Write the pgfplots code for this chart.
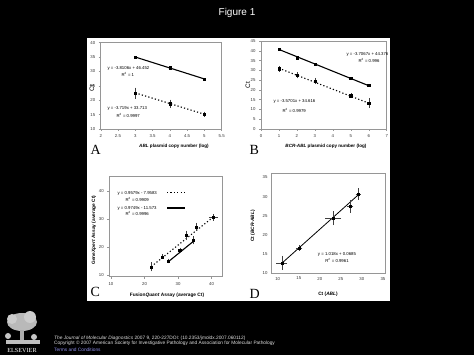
\documentclass[border=0pt]{standalone}
\usepackage{pgfplots}
\pgfplotsset{compat=1.18}
\usepackage{fontspec}
\setmainfont{Liberation Sans}
\newfontfamily\seriffont{Liberation Serif}
\definecolor{framegray}{RGB}{150,150,150}
\definecolor{termsblue}{RGB}{140,140,230}
\tikzset{
  solidfit/.style={black, line width=1.1pt},
  dotfit/.style={black, line width=1.1pt, dash pattern=on 1.2pt off 2.2pt},
}
\pgfplotsset{
  panel/.style={
    scale only axis, anchor=south west,
    axis line style={framegray, line width=0.5pt},
    tick style={framegray, line width=0.4pt},
    tick align=outside, major tick length=2pt, tick pos=left,
    tick label style={font=\fontsize{4.3}{5}\selectfont, text=black!80},
    /pgf/number format/assume math mode=true,
    clip=false,
  },
  pts/.style={only marks, mark=square*, mark size=1.1pt, black},
  ebars/.style={error bars/.cd, y dir=both, y explicit, x dir=both, x explicit,
     error bar style={line width=0.4pt, black!75},
     error mark options={mark size=1.2pt, line width=0.4pt, black!75}},
}
\begin{document}
\begin{tikzpicture}
\path[use as bounding box, fill=black] (0pt,0pt) rectangle (474pt,-355pt);
\fill[white] (87pt,-38pt) rectangle (390pt,-301pt);
\node[white, font=\fontsize{10}{12}\selectfont] at (237pt,-13pt) {Figure 1};

% ---------- Panel A ----------
\begin{axis}[panel, at={(100.7pt,-129pt)}, width=121pt, height=86.3pt,
  xmin=2, xmax=5.5, ymin=10, ymax=40,
  xtick={2,2.5,3,3.5,4,4.5,5,5.5}, ytick={10,15,20,25,30,35,40}]
  \addplot[solidfit] coordinates {(3,35.02) (5,27.40)};
  \addplot[dotfit] coordinates {(3,22.56) (5,15.12)};
  \addplot[pts] coordinates {(3,35.0) (4,31.3) (5,27.4)};
  \addplot[pts, ebars] coordinates {(3,22.5) +- (0,1.5) (4,18.8) +- (0,1.0) (5,15.1) +- (0,0.5)};
\end{axis}
\node[font=\fontsize{4.3}{5}\selectfont, anchor=west] at (104pt,-68pt) {y = -3.8106x + 46.452};
\node[font=\fontsize{4.3}{5}\selectfont, anchor=west] at (118pt,-74pt) {R\textsuperscript{2} = 1};
\node[font=\fontsize{4.3}{5}\selectfont, anchor=west] at (104pt,-108pt) {y = -3.719x + 33.713};
\node[font=\fontsize{4.3}{5}\selectfont, anchor=west] at (113pt,-115pt) {R\textsuperscript{2} = 0.9997};
\node[rotate=90, font=\fontsize{6.5}{7}\selectfont] at (92pt,-88pt) {Ct};
\node[font=\bfseries\fontsize{4.6}{5}\selectfont] at (174pt,-146pt) {\textit{ABL} plasmid copy number (log)};
\node[font=\seriffont\fontsize{14}{14}\selectfont, anchor=west] at (87pt,-150pt) {A};

% ---------- Panel B ----------
\begin{axis}[panel, at={(261pt,-129pt)}, width=125.7pt, height=88pt,
  xmin=0, xmax=7, ymin=0, ymax=45,
  xtick={0,1,...,7}, ytick={0,5,...,45}]
  \addplot[solidfit] coordinates {(1,40.67) (6,22.14)};
  \addplot[dotfit] coordinates {(1,31.05) (6,13.20)};
  \addplot[pts] coordinates {(1,40.7) (2,36.5) (3,33.2) (5,25.8) (6,22.2)};
  \addplot[pts, ebars] coordinates {(1,30.8) +- (0,0.8) (2,27.5) +- (0,1.0) (3,24.5) +- (0,1.0) (5,17.0) +- (0,0.6) (6,13.2) +- (0,1.8)};
\end{axis}
\node[font=\fontsize{4.3}{5}\selectfont, anchor=west] at (343pt,-54pt) {y = -3.7067x + 44.376};
\node[font=\fontsize{4.3}{5}\selectfont, anchor=west] at (355pt,-60pt) {R\textsuperscript{2} = 0.996};
\node[font=\fontsize{4.3}{5}\selectfont, anchor=west] at (270pt,-101pt) {y = -3.5701x + 34.616};
\node[font=\fontsize{4.3}{5}\selectfont, anchor=west] at (279pt,-110pt) {R\textsuperscript{2} = 0.9979};
\node[rotate=90, font=\fontsize{6.5}{7}\selectfont] at (248pt,-85pt) {Ct};
\node[font=\bfseries\fontsize{4.6}{5}\selectfont] at (326pt,-146pt) {\textit{BCR-ABL} plasmid copy number (log)};
\node[font=\seriffont\fontsize{14}{14}\selectfont, anchor=west] at (246pt,-150pt) {B};

% ---------- Panel C ----------
\begin{axis}[panel, at={(109.3pt,-276.7pt)}, width=113.4pt, height=100pt,
  xmin=9.5, xmax=43.3, ymin=9.5, ymax=45.2,
  xtick={10,20,30,40}, ytick={10,20,30,40}]
  \addplot[dotfit] coordinates {(22,13.11) (40.5,30.84)};
  \addplot[solidfit] coordinates {(27,14.75) (34.5,22.06)};
  \addplot[pts, ebars] coordinates {(22,13.0) +- (0,1.2) (25.2,16.6) +- (0,0.4) (32.5,24.3) +- (0,1.2) (35.3,27.3) +- (0,1.0) (40.5,30.7) +- (1.0,0.8)};
  \addplot[pts, ebars] coordinates {(27,15.1) +- (0,0.4) (30.5,18.9) +- (0,0.5) (34.5,22.5) +- (0,1.0)};
\end{axis}
\node[font=\fontsize{4.3}{5}\selectfont, anchor=west] at (114pt,-193pt) {y = 0.9579x - 7.9583};
\draw[dotfit, line width=1pt] (167pt,-193pt) -- (185pt,-193pt);
\node[font=\fontsize{4.3}{5}\selectfont, anchor=west] at (122pt,-199pt) {R\textsuperscript{2} = 0.9909};
\node[font=\fontsize{4.3}{5}\selectfont, anchor=west] at (114pt,-208pt) {y = 0.9749x - 11.573};
\draw[solidfit, line width=1.4pt] (167pt,-208pt) -- (185pt,-208pt);
\node[font=\fontsize{4.3}{5}\selectfont, anchor=west] at (122pt,-213pt) {R\textsuperscript{2} = 0.9996};
\node[rotate=90, font=\bfseries\fontsize{4.8}{5}\selectfont] at (94pt,-230pt) {Gene\textit{Xpert} Assay (average Ct)};
\node[font=\bfseries\fontsize{4.8}{5}\selectfont] at (167pt,-295pt) {Fusion\textit{Quant} Assay (average Ct)};
\node[font=\seriffont\fontsize{14}{14}\selectfont, anchor=west] at (87pt,-292pt) {C};

% ---------- Panel D ----------
\begin{axis}[panel, at={(271pt,-273.5pt)}, width=114pt, height=100pt,
  xmin=8.4, xmax=35.5, ymin=10, ymax=36,
  major tick length=0pt,
  xtick={10,15,...,35}, ytick={10,15,...,35}]
  \addplot[black, line width=0.8pt] coordinates {(10.8,12.5) (29.1,30.4)};
  \addplot[pts, mark size=1pt, ebars] coordinates {(10.95,12.8) +- (1.0,1.5) (15.1,16.6) +- (0.5,0.4) (23.2,24.4) +- (1.6,1.5) (27.2,27.4) +- (0.5,1.3) (29.1,30.7) +- (0.3,1.2)};
\end{axis}
\node[font=\fontsize{4.3}{5}\selectfont] at (337pt,-254pt) {y = 1.018x + 0.0685};
\node[font=\fontsize{4.3}{5}\selectfont] at (337pt,-260.5pt) {R\textsuperscript{2} = 0.9961};
\node[rotate=90, font=\bfseries\fontsize{4.8}{5}\selectfont] at (253pt,-226pt) {Ct (\textit{BCR-ABL})};
\node[font=\bfseries\fontsize{4.8}{5}\selectfont] at (328pt,-294pt) {Ct (\textit{ABL})};
\node[font=\seriffont\fontsize{14}{14}\selectfont, anchor=west] at (246pt,-294pt) {D};

% ---------- Footer ----------
\begin{scope}
  \fill[gray!55] (22pt,-322pt) ellipse (15pt and 9pt);
  \fill[gray!40] (12pt,-319pt) circle (5pt);
  \fill[gray!40] (30pt,-317pt) circle (6pt);
  \fill[gray!65] (20pt,-330pt) rectangle (24pt,-342pt);
  \fill[gray!50] (6pt,-340pt) rectangle (40pt,-344pt);
  \fill[gray!45] (8pt,-336pt) circle (3pt);
  \fill[gray!45] (34pt,-337pt) circle (3pt);
\end{scope}
\node[white, font=\seriffont\fontsize{6.2}{7}\selectfont] at (22pt,-350pt) {ELSEVIER};
\node[anchor=west, text=gray!25, font=\fontsize{4.8}{5}\selectfont, inner sep=0pt] at (54pt,-338.5pt) {\textit{The Journal of Molecular Diagnostics} 2007 9, 220-227DOI: (10.2353/jmoldx.2007.060112)};
\node[anchor=west, text=gray!25, font=\fontsize{4.8}{5}\selectfont, inner sep=0pt] at (54pt,-343pt) {Copyright © 2007 American Society for Investigative Pathology and Association for Molecular Pathology};
\node[anchor=west, text=termsblue, font=\fontsize{4.8}{5}\selectfont, inner sep=0pt] at (54pt,-349.5pt) {Terms and Conditions};
\end{tikzpicture}
\end{document}
